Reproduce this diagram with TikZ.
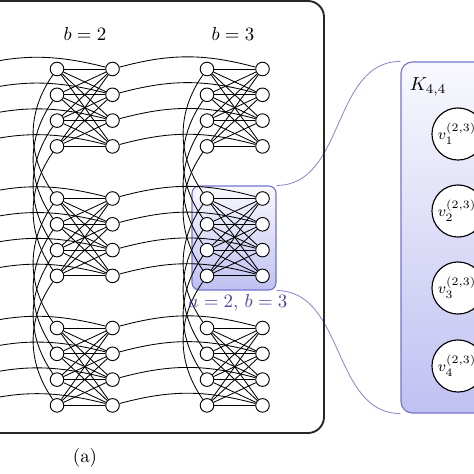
\documentclass[tikz,border=0pt]{standalone}
\usetikzlibrary{fit}
\definecolor{cellblue}{RGB}{115,115,205}
\definecolor{shadeblue}{RGB}{192,192,242}
\definecolor{linkblue}{RGB}{138,138,208}
\definecolor{textblue}{RGB}{70,70,165}

\begin{document}
\begin{tikzpicture}[x=0.53pt,y=0.53pt,
    qubit/.style={draw,circle,fill=white,inner sep=0pt,minimum size=7.2pt,line width=0.5pt},
    vert/.style={draw,circle,fill=white,inner sep=0pt,minimum size=27.6pt,line width=0.6pt},
    cellbox/.style={draw=cellblue,top color=shadeblue!10!white,bottom color=shadeblue,inner sep=0pt,line width=0.6pt},
    coupler/.style={line width=0.45pt}]

    \clip (0,0) rectangle (474,-474);

    % highlighted unit cell and its zoom
    \coordinate (H1) at (192,-186); \coordinate (H2) at (276,-290);
    \node[cellbox,rounded corners=3.8pt,fit=(H1)(H2)] (cell) {};
    \coordinate (K1) at (401,-62); \coordinate (K2) at (540,-413);
    \node[cellbox,rounded corners=6pt,fit=(K1)(K2)] (kbox) {};
    \draw[linkblue,line width=0.45pt] (cell.north east) to[out=0,in=180] (kbox.north west);
    \draw[linkblue,line width=0.45pt] (cell.south east) to[out=0,in=180] (kbox.south west);

    % qubits
    \foreach \b/\xl in {2/57,3/207} {
      \foreach \g/\yg in {1/69,2/198.5,3/328} {
        \foreach \i in {1,...,4} {
          \node[qubit] (l-\b-\g-\i) at (\xl,{-\yg-25.8*(\i-1)}) {};
          \node[qubit] (r-\b-\g-\i) at ({\xl+55.5},{-\yg-25.8*(\i-1)}) {};
        }
      }
    }
    \foreach \g/\yg in {1/69,2/198.5,3/328}
      \foreach \i in {1,...,4}
        \coordinate (r-1-\g-\i) at (-36.5,{-\yg-25.8*(\i-1)});

    % K_{4,4} inside each cell
    \foreach \b in {2,3}
      \foreach \g in {1,2,3}
        \foreach \i in {1,...,4}
          \foreach \j in {1,...,4}
            \draw[coupler] (l-\b-\g-\i) -- (r-\b-\g-\j);

    % couplers between cells
    \foreach \b/\a in {2/1,3/2}
      \foreach \g in {1,2,3}
        \foreach \i in {1,...,4}
          \draw[coupler] (r-\a-\g-\i) to[bend left=15] (r-\b-\g-\i);
    \foreach \b in {2,3}
      \foreach \g/\h in {1/2,2/3}
        \foreach \i in {1,...,4}
          \draw[coupler] (l-\b-\g-\i) to[bend right=35] (l-\b-\h-\i);

    \node[text=textblue] (celllabel) at (238,-303) {$a = 2$, $b = 3$};
    \node (title-2) at (85,-34) {$b = 2$};
    \node (title-3) at (233,-34) {$b = 3$};
    \node (caption) at (85,-458) {(a)};

    \node (klabel) at (428,-87) {$K_{4,4}$};
    \foreach \i/\y in {1/134,2/211,3/288,4/366} {
      \node[vert] (v-\i) at (458,-\y) {};
      \node[inner sep=0pt,font=\footnotesize] (vl-\i) at (457,-\y) {$v_{\i}^{(2,3)}$};
    }

    \coordinate (F1) at (-20,-1); \coordinate (F2) at (324,-433);
    \node[draw=black!85,line width=1pt,rounded corners=8.5pt,inner sep=0pt,fit=(F1)(F2)] (frame) {};

\end{tikzpicture}
\end{document}
